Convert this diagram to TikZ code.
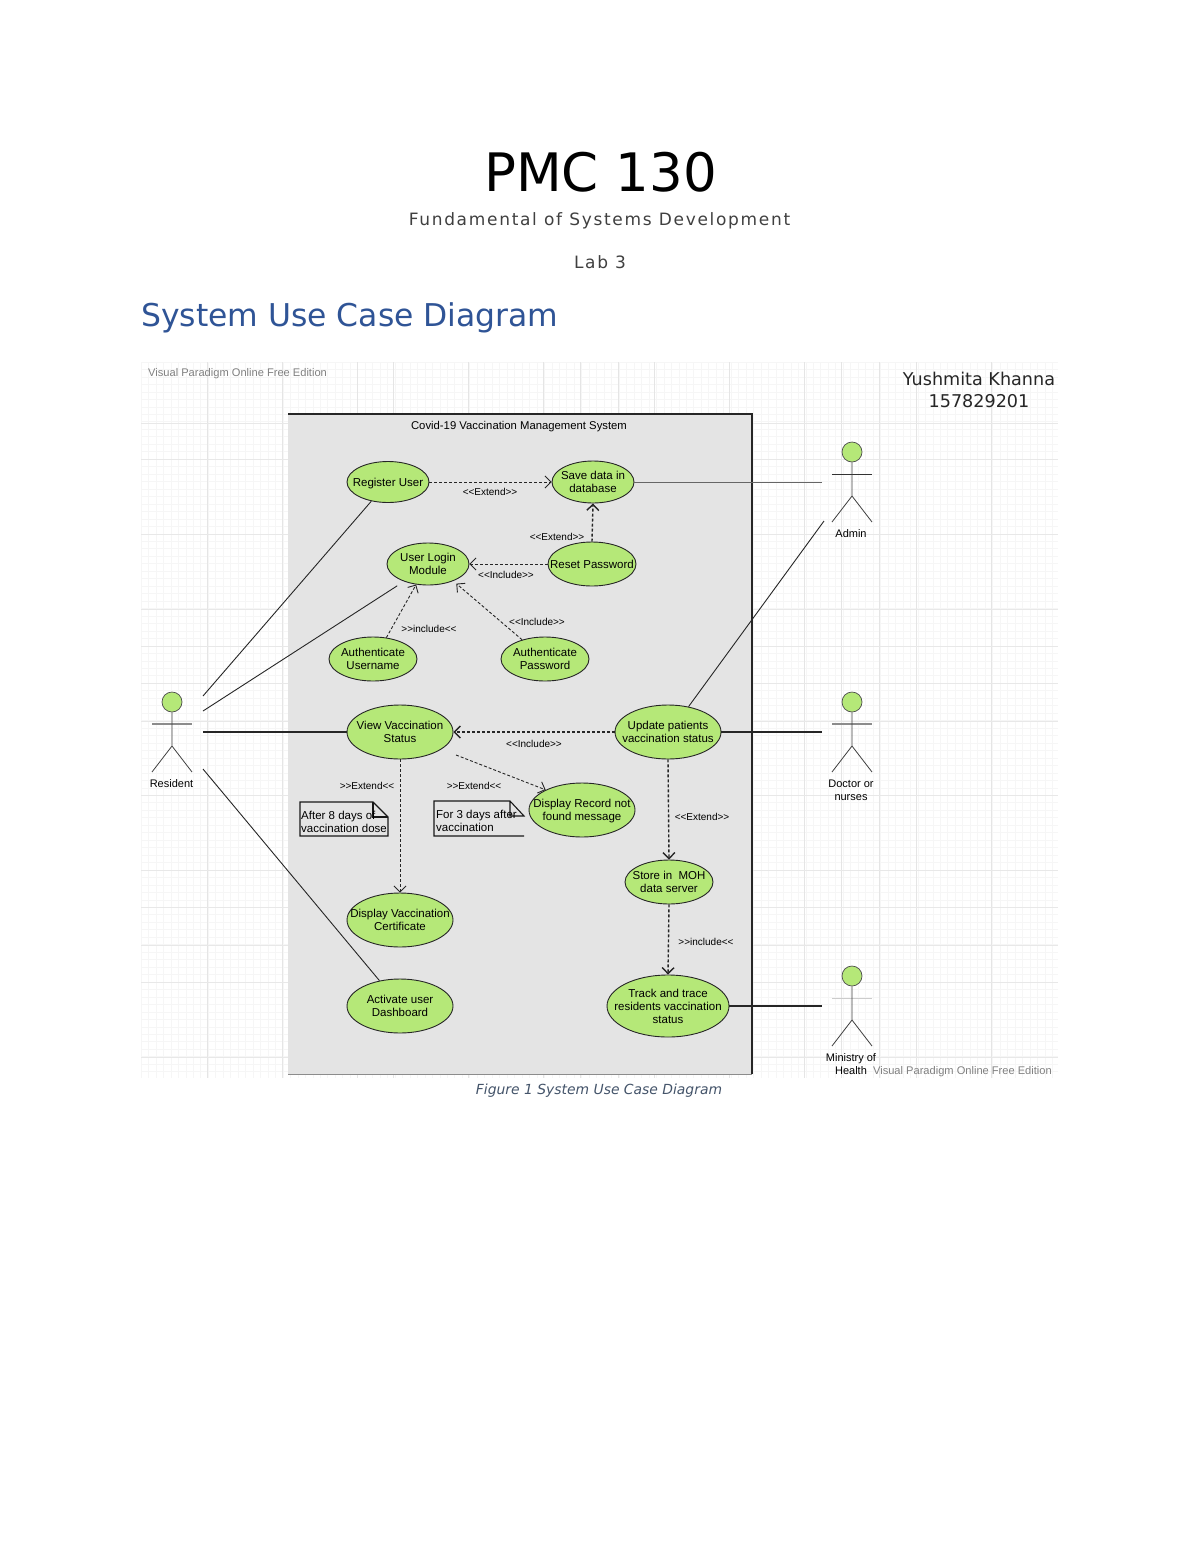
\documentclass[tikz,border=0pt]{standalone}
\usepackage{fontspec}
\setmainfont{Liberation Sans}
\newfontfamily\dejavu{DejaVu Sans}
\newfontfamily\dejaspaced[LetterSpace=10]{DejaVu Sans}
\usetikzlibrary{shapes.geometric,arrows.meta}
\definecolor{uc}{HTML}{B5E878}
\definecolor{sysgrey}{HTML}{E4E4E4}
\definecolor{headblue}{HTML}{2F5496}
\definecolor{capblue}{HTML}{44546A}
\tikzset{
  usecase/.style={ellipse,draw=black!85,line width=0.9pt,fill=uc,inner sep=-50pt,align=center,text depth=0pt,font=\fontsize{11.5}{13}\selectfont},
  tag/.style={font=\fontsize{10}{12}\selectfont,inner sep=0pt},
  dep/.style={draw=black!85,densely dashed,line width=0.9pt,-{Straight Barb[length=6pt,width=12pt]}},
  depthick/.style={dep,line width=1.4pt},
  assoc/.style={draw=black!85,line width=0.9pt},
  assocthick/.style={draw=black!85,line width=1.5pt},
  actorhead/.style={circle,draw=black!70,line width=0.7pt,fill=uc,minimum size=20pt,inner sep=0pt},
  actorbody/.style={draw=black!75,line width=0.8pt},
  actorlabel/.style={font=\fontsize{11}{13}\selectfont,inner sep=0pt,align=center},
  notebox/.style={font=\fontsize{11.5}{13}\selectfont,inner sep=0pt,align=left,anchor=west},
  noteline/.style={draw=black!90,line width=1.1pt},
  wm/.style={font=\fontsize{11.1}{13}\selectfont,text=black!50,inner sep=0pt}
}
\newcommand{\umlactor}[4]{% name, x, head y, arm style
  \node[actorhead] (#1head) at (#2,#3) {};
  \coordinate (#1arml) at (#2-20,#3+22);
  \coordinate (#1armr) at (#2+20,#3+22);
  \coordinate (#1hip) at (#2,#3+44);
  \coordinate (#1footl) at (#2-20,#3+70);
  \coordinate (#1footr) at (#2+20,#3+70);
  \draw[#4] (#1arml) -- (#1armr);
  \draw[actorbody] (#1head.south) -- (#1hip)
     (#1footl) -- (#1hip) -- (#1footr);
}
\begin{document}
\begin{tikzpicture}[x=1pt,y=-1pt]
\path[use as bounding box,fill=white] (0,0) rectangle (1200,1553);
% grid
\foreach \i in {0,...,122}{\draw[black!3.5,line width=0.6pt] ({141+7.47*\i},362) -- ({141+7.47*\i},1078);}
\foreach \i in {0,...,95}{\draw[black!3.5,line width=0.6pt] (141,{362+7.47*\i}) -- (1058,{362+7.47*\i});}
\foreach \x in {207,282,357,393,468,543,580,618,654,729,804,841,879,916,991}{\draw[black!10,line width=0.7pt] (\x,362) -- (\x,1078);}
\foreach \y in {423,459,534,609,646,683,721,795,870,907,945,982,1057}{\draw[black!9,line width=0.7pt] (141,\y) -- (1058,\y);}
% system boundary
\fill[sysgrey] (288,414) rectangle (752,1074);
\draw[black!85,line width=1.1pt] (288,414) -- (752,414) -- (752,1074);
\draw[black!45,line width=0.9pt] (288,1074) -- (752,1074);
% headings
\node[font=\dejavu\fontsize{53}{60}\selectfont,inner sep=0pt] (title) at (600.5,172) {PMC 130};
\node[font=\dejaspaced\fontsize{17}{20}\selectfont,text=black!75,inner sep=0pt] (subtitle) at (599.5,221) {Fundamental of Systems Development};
\node[font=\dejaspaced\fontsize{17}{20}\selectfont,text=black!75,inner sep=0pt] (lab) at (600,262) {Lab 3};
\node[font=\dejavu\fontsize{31.4}{36}\selectfont,text=headblue,inner sep=0pt,anchor=west] (heading) at (141,318) {System Use Case Diagram};
\node[font=\dejavu\itshape\fontsize{13.9}{18}\selectfont,text=capblue,inner sep=0pt] (caption) at (599,1091) {Figure 1 System Use Case Diagram};
\node[font=\dejavu\fontsize{17.6}{22}\selectfont,align=center,inner sep=0pt,text=black!85] (author) at (979,390) {Yushmita Khanna\\157829201};
\node[wm,anchor=west] (wm1) at (148,374) {Visual Paradigm Online Free Edition};
\node[wm,anchor=east] (wm2) at (1052,1072) {Visual Paradigm Online Free Edition};
\node[font=\fontsize{11.3}{13}\selectfont,inner sep=0pt] (systitle) at (519,427) {Covid-19 Vaccination Management System};
% use cases
\node[usecase,minimum width=82pt,minimum height=41pt] (register) at (388,482) {Register User};
\node[usecase,minimum width=82pt,minimum height=42pt] (save) at (593,482) {Save data in\\database};
\node[usecase,minimum width=82pt,minimum height=42pt] (login) at (428,564) {User Login\\Module};
\node[usecase,minimum width=88pt,minimum height=44pt] (reset) at (592,564) {Reset Password};
\node[usecase,minimum width=88pt,minimum height=44pt] (authu) at (373,659) {Authenticate\\Username};
\node[usecase,minimum width=88pt,minimum height=44pt] (authp) at (545,659) {Authenticate\\Password};
\node[usecase,minimum width=106pt,minimum height=54pt] (view) at (400,732) {View Vaccination\\Status};
\node[usecase,minimum width=106pt,minimum height=54pt] (update) at (668,732) {Update patients\\vaccination status};
\node[usecase,minimum width=106pt,minimum height=54pt] (record) at (582,810) {Display Record not\\found message};
\node[usecase,minimum width=88pt,minimum height=44pt] (store) at (669,882) {Store in\ \ MOH\\data server};
\node[usecase,minimum width=106pt,minimum height=54pt] (cert) at (400,920) {Display Vaccination\\Certificate};
\node[usecase,minimum width=106pt,minimum height=54pt] (activate) at (400,1006) {Activate user\\Dashboard};
\node[usecase,minimum width=122pt,minimum height=62pt] (track) at (668,1006) {Track and trace\\residents vaccination\\status};
% actors
\umlactor{res}{172}{702}{draw=black!45,line width=1.6pt}
\umlactor{adm}{852}{452}{draw=black!80,line width=0.8pt}
\umlactor{doc}{852}{702}{draw=black!45,line width=1.6pt}
\umlactor{min}{852}{976}{draw=black!20,line width=0.8pt}
\node[actorlabel] (reslabel) at (171.5,784) {Resident};
\node[actorlabel] (admlabel) at (851,534) {Admin};
\node[actorlabel] (doclabel) at (851,790.5) {Doctor or\\nurses};
\node[actorlabel] (minlabel) at (851,1064) {Ministry of\\Health};
% free ends of the associations
\coordinate (resA) at (203,696);
\coordinate (resB) at (203,711);
\coordinate (resC) at (203,732);
\coordinate (resD) at (203,769);
\coordinate (admA) at (822,482);
\coordinate (admB) at (824,521);
\coordinate (docA) at (822,732);
\coordinate (minA) at (822,1006);
\coordinate (viewout) at (456,755);
% associations
\draw[assoc] (resA) -- (register.229);
\draw[assoc,shorten >=8pt] (resB) -- (login.216);
\draw[assocthick] (resC) -- (view.west);
\draw[assoc] (resD) -- (activate.129);
\draw[assoc,black!60] (save.east) -- (admA);
\draw[assoc] (update.51) -- (admB);
\draw[assocthick] (update.east) -- (docA);
\draw[assocthick] (track.east) -- (minA);
% dependencies
\draw[dep] (register.east) -- (save.west);
\draw[depthick] (reset.north) -- (save.south);
\draw[dep] (reset.west) -- (login.east);
\draw[dep] (authu.58) -- (login.240);
\draw[dep,shorten >=4pt] (authp.140) -- (login.326);
\draw[depthick] (update.west) -- (view.east);
\draw[dep] (view.270) -- (cert.90);
\draw[dep] (viewout) -- (record.151);
\draw[depthick] (update.270) -- (store.90);
\draw[depthick] (store.270) -- (track.90);
% dependency labels
\node[tag] at (490,491.5) {<{}<Extend>{}>};
\node[tag] at (557,536.5) {<{}<Extend>{}>};
\node[tag] at (506,574.5) {<{}<Include>{}>};
\node[tag] at (429,628.5) {>{}>include<{}<};
\node[tag] at (537,621.5) {<{}<Include>{}>};
\node[tag] at (534,743.5) {<{}<Include>{}>};
\node[tag] at (367,785.5) {>{}>Extend<{}<};
\node[tag] at (474,785.5) {>{}>Extend<{}<};
\node[tag] at (702,816.5) {<{}<Extend>{}>};
\node[tag] at (706,941.5) {>{}>include<{}<};
% notes
\draw[noteline,fill=sysgrey] (300,802) -- (373,802) -- (388,817) -- (388,836) -- (300,836) -- cycle;
\draw[noteline] (373,802) -- (373,817) -- (388,817);
\node[notebox] (note1) at (301,822) {After 8 days of\\vaccination dose};
\draw[noteline] (524,836) -- (434,836) -- (434,801) -- (510,801) -- (524,816) -- (510,816) -- (510,801);
\node[notebox] (note2) at (436,821) {For 3 days after\\vaccination};
\end{tikzpicture}
\end{document}
